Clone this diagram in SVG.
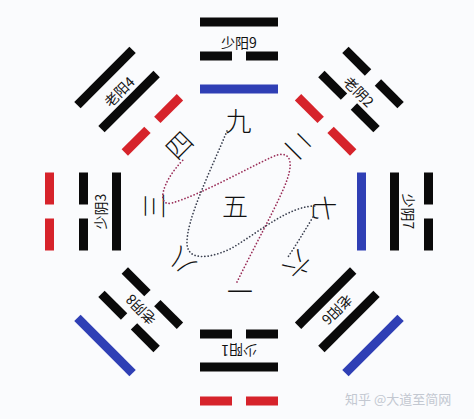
<svg xmlns="http://www.w3.org/2000/svg" width="474" height="419" viewBox="0 0 474 419">
<style>
.k{fill:#0a0a0a}
.b{fill:#2f3fb5}
.r{fill:#d6232b}
.lbl{font-family:"Noto Sans CJK SC","Noto Sans",sans-serif;font-size:14px;fill:#111;text-anchor:middle;dominant-baseline:central}
.num{font-family:"Noto Sans CJK SC","Noto Sans",sans-serif;font-size:26px;font-weight:300;fill:#111;text-anchor:middle;dominant-baseline:central}
.dp{fill:none;stroke:#9a2d58;stroke-width:1.7;stroke-dasharray:0.1 3.2;stroke-linecap:round}
.dg{fill:none;stroke:#3b4050;stroke-width:1.7;stroke-dasharray:0.1 3.2;stroke-linecap:round}
.wm{font-family:"Noto Sans CJK SC","Noto Sans",sans-serif;font-size:13px;fill:#c3c8d1}
</style>
<rect width="474" height="419" fill="#fafbfd"/>

<g id="n9">
  <g transform="rotate(0 239 211.5)">
    <rect class="k" x="200" y="17.5" width="78" height="9"/>
    <text class="lbl" x="239" y="41.5">少阳9</text>
    <rect class="k" x="200" y="51.5" width="32" height="9"/><rect class="k" x="246" y="51.5" width="32" height="9"/>
    <rect class="b" x="200" y="84.5" width="78" height="9"/>
  </g>
  <text class="num" x="238.5" y="119">九</text>
</g>

<g id="n2">
  <g transform="rotate(45 239 211.5)">
    <rect class="k" x="200" y="17.5" width="32" height="9"/><rect class="k" x="246" y="17.5" width="32" height="9"/>
    <text class="lbl" x="239" y="41.5">老阴2</text>
    <rect class="k" x="200" y="51.5" width="32" height="9"/><rect class="k" x="246" y="51.5" width="32" height="9"/>
    <rect class="r" x="200" y="84.5" width="32" height="9"/><rect class="r" x="246" y="84.5" width="32" height="9"/>
  </g>
  <text class="num" x="300" y="144" transform="rotate(45 300 144)">二</text>
</g>

<g id="n7">
  <g transform="rotate(90 239 211.5)">
    <rect class="k" x="200" y="17.5" width="32" height="9"/><rect class="k" x="246" y="17.5" width="32" height="9"/>
    <text class="lbl" x="239" y="41.5">少阴7</text>
    <rect class="k" x="200" y="51.5" width="78" height="9"/>
    <rect class="b" x="200" y="84.5" width="78" height="9"/>
  </g>
  <text class="num" x="325" y="208" transform="rotate(90 325 208)">七</text>
</g>

<g id="n6">
  <g transform="rotate(135 239 211.5)">
    <rect class="b" x="200" y="17.5" width="78" height="9"/>
    <rect class="k" x="200" y="51.5" width="78" height="9"/>
    <text class="lbl" x="239" y="72">老阳6</text>
    <rect class="k" x="200" y="84.5" width="78" height="9"/>
  </g>
  <text class="num" x="299" y="266" transform="rotate(135 299 266)">六</text>
</g>

<g id="n1">
  <g transform="rotate(180 239 211.5)">
    <rect class="r" x="200" y="17.5" width="32" height="9"/><rect class="r" x="246" y="17.5" width="32" height="9"/>
    <rect class="k" x="200" y="51.5" width="78" height="9"/>
    <text class="lbl" x="239" y="72">少阳1</text>
    <rect class="k" x="200" y="84.5" width="32" height="9"/><rect class="k" x="246" y="84.5" width="32" height="9"/>
  </g>
  <text class="num" x="240" y="292" transform="rotate(180 240 292)">一</text>
</g>

<g id="n8">
  <g transform="rotate(225 239 211.5)">
    <rect class="b" x="200" y="17.5" width="78" height="9"/>
    <rect class="k" x="200" y="51.5" width="32" height="9"/><rect class="k" x="246" y="51.5" width="32" height="9"/>
    <text class="lbl" x="239" y="72">老阴8</text>
    <rect class="k" x="200" y="84.5" width="32" height="9"/><rect class="k" x="246" y="84.5" width="32" height="9"/>
  </g>
  <text class="num" x="180" y="263" transform="rotate(225 180 263)">八</text>
</g>

<g id="n3">
  <g transform="rotate(270 239 211.5)">
    <rect class="r" x="200" y="17.5" width="32" height="9"/><rect class="r" x="246" y="17.5" width="32" height="9"/>
    <rect class="k" x="200" y="51.5" width="32" height="9"/><rect class="k" x="246" y="51.5" width="32" height="9"/>
    <text class="lbl" x="239" y="72">少阴3</text>
    <rect class="k" x="200" y="84.5" width="78" height="9"/>
  </g>
  <text class="num" x="152" y="206" transform="rotate(270 152 206)">三</text>
</g>

<g id="n4">
  <g transform="rotate(315 239 211.5)">
    <rect class="k" x="200" y="17.5" width="78" height="9"/>
    <text class="lbl" x="239" y="41.5">老阳4</text>
    <rect class="k" x="200" y="51.5" width="78" height="9"/>
    <rect class="r" x="200" y="84.5" width="32" height="9"/><rect class="r" x="246" y="84.5" width="32" height="9"/>
  </g>
  <text class="num" x="178" y="144" transform="rotate(315 178 144)">四</text>
</g>

<g id="n5">
  <text class="num" x="235" y="204">五</text>
</g>

<g id="connectors">
  <path class="dp" d="M237 282 C255 245 279 202 287 180 C295 157 287 150 272 157 C242 171 202 194 172 203 C157 207 160 184 183 160"/>
  <path class="dg" d="M227 131 C210 172 186 220 187 244 C188 262 212 258 232 248 C262 230 290 205 317 206"/>
  <path class="dg" d="M313 217 C304 232 296 245 288 257"/>
</g>

<text class="wm" x="345" y="404">知乎 @大道至简网</text>
</svg>
